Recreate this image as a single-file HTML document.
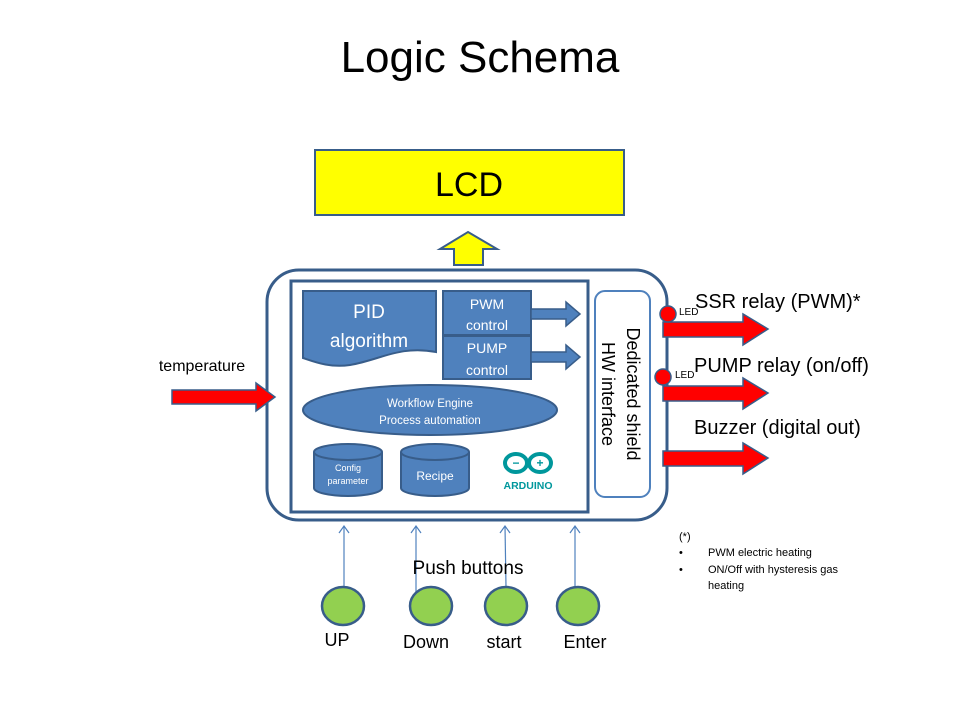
<!DOCTYPE html>
<html><head><style>
html,body{margin:0;padding:0;background:#fff;}
svg{display:block;font-family:"Liberation Sans",sans-serif;}
</style></head><body>
<svg width="960" height="720" viewBox="0 0 960 720" xmlns="http://www.w3.org/2000/svg">
<text x="480" y="72" font-size="44" text-anchor="middle" fill="#000">Logic Schema</text>
<rect x="315" y="150" width="309" height="65" fill="#ffff00" stroke="#385d8a" stroke-width="2"/>
<text x="469" y="196" font-size="34" text-anchor="middle">LCD</text>
<polygon points="468,232 497,249 483,249 483,265 454,265 454,249 440,249" fill="#ffff00" stroke="#385d8a" stroke-width="2"/>
<rect x="267" y="270" width="400" height="250" rx="32" fill="none" stroke="#385d8a" stroke-width="3"/>
<rect x="291" y="281" width="297" height="231" fill="none" stroke="#385d8a" stroke-width="3"/>
<path d="M303,291 H436 V352 C400,345 380,360 350,365 C330,368 315,362 303,358 Z" fill="#4f81bd" stroke="#385d8a" stroke-width="2"/>
<text x="369" y="318" font-size="19" fill="#fff" text-anchor="middle">PID</text>
<text x="369" y="347" font-size="19" fill="#fff" text-anchor="middle">algorithm</text>
<rect x="443" y="291" width="88" height="44" fill="#4f81bd" stroke="#385d8a" stroke-width="2"/>
<rect x="443" y="336" width="88" height="43" fill="#4f81bd" stroke="#385d8a" stroke-width="2"/>
<text x="487" y="309" font-size="14" fill="#fff" text-anchor="middle">PWM</text>
<text x="487" y="330" font-size="14" fill="#fff" text-anchor="middle">control</text>
<text x="487" y="353" font-size="14" fill="#fff" text-anchor="middle">PUMP</text>
<text x="487" y="375" font-size="14" fill="#fff" text-anchor="middle">control</text>
<polygon points="531,309 566,309 566,302 580,314 566,326 566,319 531,319" fill="#4f81bd" stroke="#385d8a" stroke-width="1.5"/>
<polygon points="531,352 566,352 566,345 580,357 566,369 566,362 531,362" fill="#4f81bd" stroke="#385d8a" stroke-width="1.5"/>
<ellipse cx="430" cy="410" rx="127" ry="25" fill="#4f81bd" stroke="#385d8a" stroke-width="2"/>
<text x="430" y="407" font-size="11.5" fill="#fff" text-anchor="middle">Workflow Engine</text>
<text x="430" y="424" font-size="11.5" fill="#fff" text-anchor="middle">Process automation</text>
<path d="M314,452 V488 A34,8 0 0 0 382,488 V452" fill="#4f81bd" stroke="#385d8a" stroke-width="2"/>
<ellipse cx="348" cy="452" rx="34" ry="8" fill="#4f81bd" stroke="#385d8a" stroke-width="2"/>
<text x="348" y="471" font-size="9" fill="#fff" text-anchor="middle">Config</text>
<text x="348" y="484" font-size="9" fill="#fff" text-anchor="middle">parameter</text>
<path d="M401,452 V488 A34,8 0 0 0 469,488 V452" fill="#4f81bd" stroke="#385d8a" stroke-width="2"/>
<ellipse cx="435" cy="452" rx="34" ry="8" fill="#4f81bd" stroke="#385d8a" stroke-width="2"/>
<text x="435" y="480" font-size="12" fill="#fff" text-anchor="middle">Recipe</text>
<g fill="none" stroke="#00979c" stroke-width="4">
<ellipse cx="516" cy="463" rx="11" ry="9"/><ellipse cx="540" cy="463" rx="11" ry="9"/>
</g>
<text x="516" y="467" font-size="12" fill="#00979c" text-anchor="middle" font-weight="bold">−</text>
<text x="540" y="467" font-size="12" fill="#00979c" text-anchor="middle" font-weight="bold">+</text>
<text x="528" y="489" font-size="10.5" fill="#00979c" text-anchor="middle" font-weight="bold">ARDUINO</text>
<rect x="595" y="291" width="55" height="206" rx="10" fill="#fff" stroke="#4f81bd" stroke-width="2"/>
<text transform="translate(627,394) rotate(90)" font-size="18" text-anchor="middle">Dedicated shield</text>
<text transform="translate(602,394) rotate(90)" font-size="18" text-anchor="middle">HW interface</text>
<text x="202" y="371" font-size="16" text-anchor="middle">temperature</text>
<polygon points="172,390 256,390 256,383 275,397 256,411 256,404 172,404" fill="#ff0000" stroke="#385d8a" stroke-width="1.5"/>
<g fill="#ff0000" stroke="#385d8a" stroke-width="1.5">
<polygon points="663,322 743,322 743,314 768,329 743,345 743,337 663,337"/>
<polygon points="663,386 743,386 743,378 768,393 743,409 743,401 663,401"/>
<polygon points="663,451 743,451 743,443 768,458 743,474 743,466 663,466"/>
<circle cx="668" cy="314" r="8"/><circle cx="663" cy="377" r="8"/>
</g>
<text x="679" y="315" font-size="10">LED</text>
<text x="675" y="378" font-size="10">LED</text>
<text x="695" y="308" font-size="20">SSR relay (PWM)*</text>
<text x="694" y="372" font-size="20">PUMP relay (on/off)</text>
<text x="694" y="434" font-size="20">Buzzer (digital out)</text>
<g stroke="#4f81bd" stroke-width="1.2" fill="none">
<line x1="344" y1="587" x2="344" y2="526"/><polyline points="339,533 344,526 349,533"/>
<line x1="416" y1="597" x2="416" y2="526"/><polyline points="411,533 416,526 421,533"/>
<line x1="506" y1="587" x2="505" y2="526"/><polyline points="500,533 505,526 510,533"/>
<line x1="575" y1="587" x2="575" y2="526"/><polyline points="570,533 575,526 580,533"/>
</g>
<text x="468" y="574" font-size="19" text-anchor="middle">Push buttons</text>
<g fill="#92d050" stroke="#385d8a" stroke-width="2.5">
<ellipse cx="343" cy="606" rx="21" ry="19"/><ellipse cx="431" cy="606" rx="21" ry="19"/>
<ellipse cx="506" cy="606" rx="21" ry="19"/><ellipse cx="578" cy="606" rx="21" ry="19"/>
</g>
<text x="337" y="646" font-size="18" text-anchor="middle">UP</text>
<text x="426" y="648" font-size="18" text-anchor="middle">Down</text>
<text x="504" y="648" font-size="18" text-anchor="middle">start</text>
<text x="585" y="648" font-size="18" text-anchor="middle">Enter</text>
<g font-size="11">
<text x="679" y="540">(*)</text>
<text x="679" y="556">•</text><text x="708" y="556">PWM electric heating</text>
<text x="679" y="573">•</text><text x="708" y="573">ON/Off  with hysteresis gas</text>
<text x="708" y="589">heating</text>
</g>
</svg>
</body></html>
